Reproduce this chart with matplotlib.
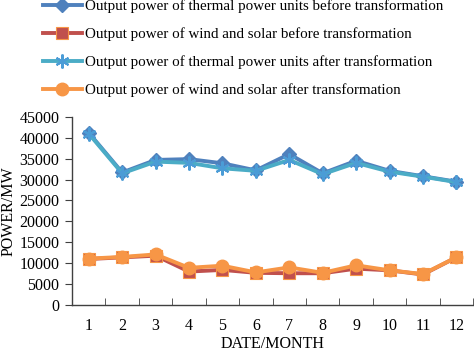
import matplotlib
matplotlib.use("Agg")
import matplotlib.pyplot as plt

months = [1, 2, 3, 4, 5, 6, 7, 8, 9, 10, 11, 12]
thermal_before = [41200, 31700, 34700, 34900, 33900, 32200, 36100, 31500, 34500, 32100, 30800, 29500]
wind_solar_before = [11000, 11400, 11800, 8000, 8400, 7700, 7600, 7600, 8700, 8300, 7300, 11400]
thermal_after = [41000, 31500, 34300, 34000, 32700, 32100, 34700, 31300, 34000, 31900, 30700, 29400]
wind_solar_after = [11100, 11500, 12100, 8900, 9400, 7800, 9000, 7700, 9500, 8300, 7400, 11400]
labels = [
    "Output power of thermal power units before transformation",
    "Output power of wind and solar before transformation",
    "Output power of thermal power units after transformation",
    "Output power of wind and solar after transformation",
]
yticks = [0, 5000, 10000, 15000, 20000, 25000, 30000, 35000, 40000, 45000]

plt.rcParams['font.family'] = ['Liberation Serif', 'DejaVu Serif']

fig = plt.figure(figsize=(4.74, 3.51), dpi=100)
ax = fig.add_axes([0.152, 0.131, 0.846, 0.536])

l1, = ax.plot(months, thermal_before, color='#4F81BD', lw=2.8, marker='D', ms=7, zorder=3)
l2, = ax.plot(months, wind_solar_before, color='#C0504D', lw=2.8, marker='s', ms=8,
              markeredgecolor='#F79646', markeredgewidth=0.8, zorder=3)
l3, = ax.plot(months, thermal_after, color='#4BACC6', lw=2.8, marker=(6, 2, 0), ms=10,
              markeredgecolor='#4B9CD6', markeredgewidth=1.5, zorder=4)
l4, = ax.plot(months, wind_solar_after, color='#F79646', lw=2.8, marker='o', ms=9, zorder=4)

ax.set_xlim(0.5, 12.5)
ax.set_ylim(0, 45000)
ax.set_yticks(yticks)
ax.set_xticks(months)
ax.set_xticks([m + 0.5 for m in months[:-1]] + [0.5, 12.5], minor=True)
ax.tick_params(axis='x', which='major', length=0, pad=9, labelsize=11.5)
ax.tick_params(axis='x', which='minor', direction='in', length=5, color='#404040')
ax.tick_params(axis='y', direction='out', length=5, labelsize=11.5, color='#404040', pad=4)
for s in ['top', 'right']:
    ax.spines[s].set_visible(False)
for s in ['left', 'bottom']:
    ax.spines[s].set_color('#404040')
    ax.spines[s].set_linewidth(1.0)

ax.set_xlabel("DATE/MONTH", fontsize=11.5, labelpad=2)
ax.set_ylabel("POWER/MW", fontsize=11.5, labelpad=2)

fig.legend([l1, l2, l3, l4], labels, loc='upper left', bbox_to_anchor=(0.078, 1.02),
           frameon=False, fontsize=10.8, handlelength=2.6, handletextpad=0.2,
           labelspacing=0.95, borderaxespad=0)

fig.savefig("out.png", dpi=100)
